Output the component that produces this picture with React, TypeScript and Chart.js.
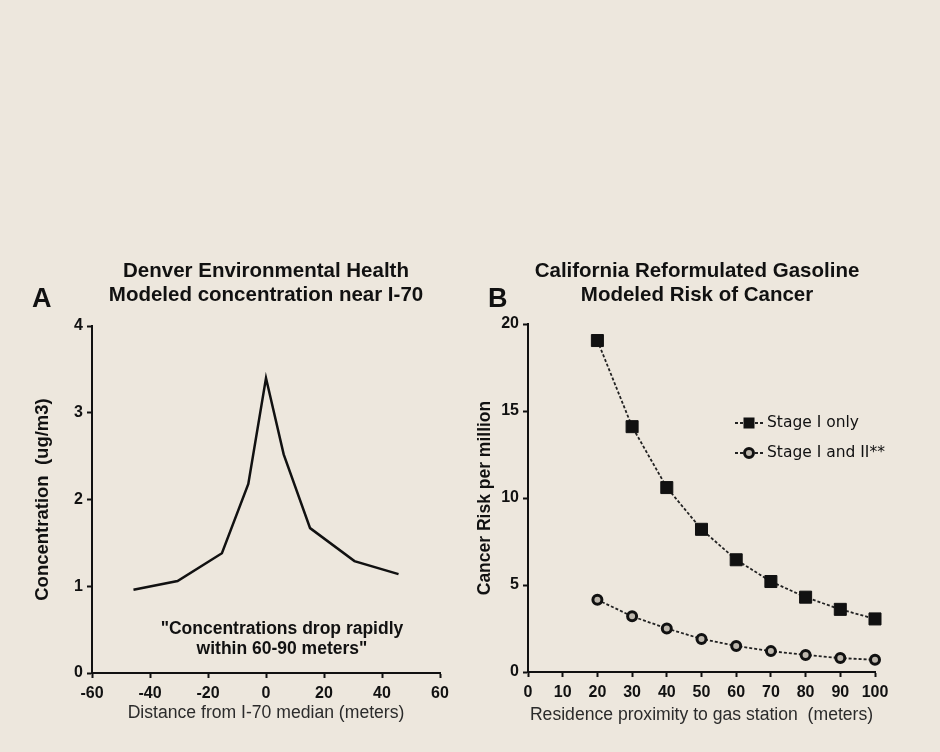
import React, { useEffect, useRef } from "react";
import { Chart, registerables } from "chart.js";

Chart.register(...registerables);

// Panel A: modeled concentration vs distance from the I-70 median
const distanceM = [-45.7, -30.5, -15.2, -6.1, 0, 6.1, 15.2, 30.5, 45.7];
const concentration = [0.96, 1.06, 1.38, 2.18, 3.4, 2.52, 1.67, 1.29, 1.14];

// Panel B: modeled cancer risk vs residence proximity to a gas station
const proximityM = [20, 30, 40, 50, 60, 70, 80, 90, 100];
const stageIOnly = [19.05, 14.1, 10.6, 8.2, 6.45, 5.2, 4.3, 3.6, 3.05];
const stageIAndII = [4.15, 3.2, 2.5, 1.9, 1.5, 1.2, 0.98, 0.8, 0.7];

const seriesLabels = ["Stage I only", "Stage I and II**"];

const titleA = ["Denver Environmental Health", "Modeled concentration near I-70"];
const titleB = ["California Reformulated Gasoline", "Modeled Risk of Cancer"];
const noteA = ['"Concentrations drop rapidly', 'within 60-90 meters"'];

const BG = "#EDE7DD";
const INK = "#111111";
const SANS = '"Liberation Sans", Arial, sans-serif';

type PanelText = {
  letter: string;
  letterX: number;
  titleLines: string[];
  titleCx: number;
  note?: string[];
};

function panelTextPlugin(p: PanelText) {
  return {
    id: "panelText",
    afterDraw(chart: any) {
      const ctx = chart.ctx as CanvasRenderingContext2D;
      ctx.save();
      ctx.fillStyle = INK;
      ctx.textBaseline = "alphabetic";
      ctx.font = `bold 27px ${SANS}`;
      ctx.textAlign = "left";
      ctx.fillText(p.letter, p.letterX, 307);
      ctx.font = `bold 20.5px ${SANS}`;
      ctx.textAlign = "center";
      p.titleLines.forEach((t, i) => ctx.fillText(t, p.titleCx, 277 + i * 24));
      if (p.note) {
        const xs = chart.scales.x;
        const cx = xs.getPixelForValue(5.5);
        ctx.font = `bold 17.5px ${SANS}`;
        p.note.forEach((t, i) => ctx.fillText(t, cx, 634 + i * 20));
      }
      ctx.restore();
    },
  };
}

const legendPlugin = {
  id: "insetLegend",
  afterDraw(chart: any) {
    const ctx = chart.ctx as CanvasRenderingContext2D;
    ctx.save();
    chart.data.datasets.forEach((ds: any, i: number) => {
      const y = 423 + i * 30;
      const x0 = 265;
      const x1 = 293;
      const mx = 279;
      ctx.strokeStyle = ds.borderColor;
      ctx.lineWidth = ds.borderWidth;
      ctx.setLineDash(ds.borderDash || []);
      ctx.beginPath();
      ctx.moveTo(x0, y);
      ctx.lineTo(x1, y);
      ctx.stroke();
      ctx.setLineDash([]);
      if (ds.pointStyle === "rect") {
        const s = 11;
        ctx.fillStyle = ds.pointBackgroundColor;
        ctx.fillRect(mx - s / 2, y - s / 2, s, s);
      } else {
        ctx.beginPath();
        ctx.arc(mx, y, 4.5, 0, Math.PI * 2);
        ctx.fillStyle = ds.pointBackgroundColor;
        ctx.fill();
        ctx.lineWidth = ds.pointBorderWidth;
        ctx.strokeStyle = ds.pointBorderColor;
        ctx.stroke();
      }
      ctx.fillStyle = INK;
      ctx.font = `15.5px "DejaVu Sans", sans-serif`;
      ctx.textAlign = "left";
      ctx.textBaseline = "middle";
      ctx.fillText(ds.label, 297, y);
    });
    ctx.restore();
  },
};

function axis(opts: {
  min: number;
  max: number;
  step: number;
  title: string;
  titleFont: any;
  titleColor: string;
  titlePadding: any;
  tickPadding: number;
  fit: (s: any) => void;
}) {
  return {
    type: "linear" as const,
    min: opts.min,
    max: opts.max,
    border: { display: true, color: INK, width: 2 },
    grid: {
      display: true,
      drawOnChartArea: false,
      drawTicks: true,
      tickLength: 5,
      tickColor: INK,
      tickWidth: 2,
    },
    ticks: {
      stepSize: opts.step,
      color: INK,
      padding: opts.tickPadding,
      font: { family: SANS, size: 16, weight: "bold" as const },
    },
    title: {
      display: true,
      text: opts.title,
      color: opts.titleColor,
      font: opts.titleFont,
      padding: opts.titlePadding,
    },
    afterFit: opts.fit,
  };
}

function PanelA() {
  const ref = useRef<HTMLCanvasElement>(null);
  useEffect(() => {
    const chart = new Chart(ref.current!, {
      type: "scatter",
      data: {
        datasets: [
          {
            label: "Concentration",
            data: distanceM.map((x, i) => ({ x, y: concentration[i] })),
            showLine: true,
            borderColor: INK,
            borderWidth: 2.5,
            pointRadius: 0,
            tension: 0,
          },
        ],
      },
      options: {
        responsive: false,
        animation: false,
        devicePixelRatio: 1,
        layout: { padding: { left: 30, right: 30, top: 326, bottom: 27 } },
        plugins: { legend: { display: false }, tooltip: { enabled: false } },
        scales: {
          x: axis({
            min: -60,
            max: 60,
            step: 20,
            title: "Distance from I-70 median (meters)",
            titleFont: { family: SANS, size: 17.6, weight: "normal" },
            titleColor: "#2b2b2b",
            titlePadding: { top: 0, bottom: 1 },
            tickPadding: 6,
            fit: (s) => {
              s.height = 52;
            },
          }),
          y: axis({
            min: 0,
            max: 4,
            step: 1,
            title: "Concentration  (ug/m3)",
            titleFont: { family: SANS, size: 18.5, weight: "bold" },
            titleColor: INK,
            titlePadding: { top: 2, bottom: 0 },
            tickPadding: 4,
            fit: (s) => {
              s.width = 62;
            },
          }),
        },
      },
      plugins: [
        panelTextPlugin({
          letter: "A",
          letterX: 32,
          titleLines: titleA,
          titleCx: 266,
          note: noteA,
        }),
      ],
    });
    return () => chart.destroy();
  }, []);
  return (
    <canvas
      ref={ref}
      width={470}
      height={752}
      style={{ position: "absolute", left: 0, top: 0, width: 470, height: 752 }}
    />
  );
}

function PanelB() {
  const ref = useRef<HTMLCanvasElement>(null);
  useEffect(() => {
    const chart = new Chart(ref.current!, {
      type: "scatter",
      data: {
        datasets: [
          {
            label: seriesLabels[0],
            data: proximityM.map((x, i) => ({ x, y: stageIOnly[i] })),
            showLine: true,
            clip: false,
            borderColor: "#222222",
            borderWidth: 1.8,
            borderDash: [3, 2],
            pointStyle: "rect",
            pointRadius: 8.5,
            pointBackgroundColor: INK,
            pointBorderColor: INK,
            pointBorderWidth: 1,
          },
          {
            label: seriesLabels[1],
            data: proximityM.map((x, i) => ({ x, y: stageIAndII[i] })),
            showLine: true,
            clip: false,
            borderColor: "#222222",
            borderWidth: 1.8,
            borderDash: [3, 2],
            pointStyle: "circle",
            pointRadius: 4.5,
            pointBackgroundColor: "#bdb7ad",
            pointBorderColor: INK,
            pointBorderWidth: 3,
          },
        ],
      },
      options: {
        responsive: false,
        animation: false,
        devicePixelRatio: 1,
        layout: { padding: { left: 3, right: 65, top: 324, bottom: 26 } },
        plugins: { legend: { display: false }, tooltip: { enabled: false } },
        scales: {
          x: axis({
            min: 0,
            max: 100,
            step: 10,
            title: "Residence proximity to gas station  (meters)",
            titleFont: { family: SANS, size: 17.6, weight: "normal" },
            titleColor: "#2b2b2b",
            titlePadding: { top: 0, bottom: 0 },
            tickPadding: 6,
            fit: (s) => {
              s.height = 54;
            },
          }),
          y: axis({
            min: 0,
            max: 20,
            step: 5,
            title: "Cancer Risk per million",
            titleFont: { family: SANS, size: 17.5, weight: "bold" },
            titleColor: INK,
            titlePadding: { top: 2, bottom: 0 },
            tickPadding: 4,
            fit: (s) => {
              s.width = 55;
            },
          }),
        },
      },
      plugins: [
        panelTextPlugin({
          letter: "B",
          letterX: 18,
          titleLines: titleB,
          titleCx: 227,
        }),
        legendPlugin,
      ],
    });
    return () => chart.destroy();
  }, []);
  return (
    <canvas
      ref={ref}
      width={470}
      height={752}
      style={{ position: "absolute", left: 470, top: 0, width: 470, height: 752 }}
    />
  );
}

export default function App() {
  return (
    <div
      style={{
        position: "absolute",
        left: 0,
        top: 0,
        width: 940,
        height: 752,
        background: BG,
        overflow: "hidden",
      }}
    >
      <PanelA />
      <PanelB />
    </div>
  );
}
